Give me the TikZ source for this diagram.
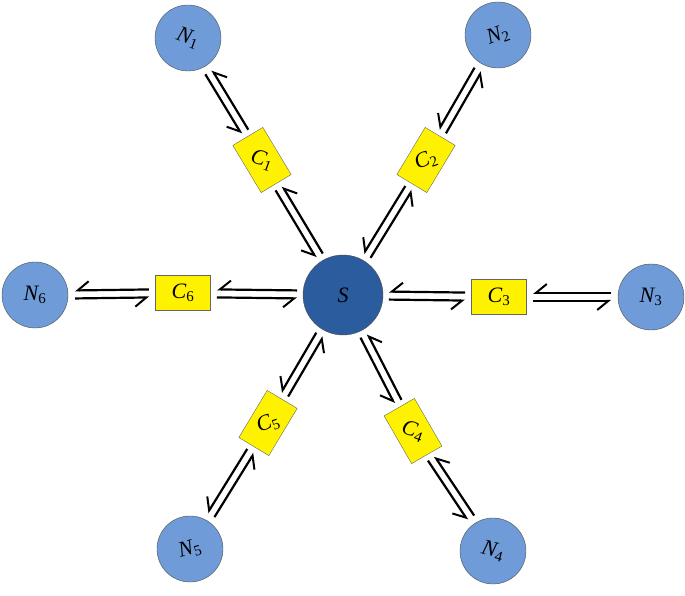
\documentclass[tikz,border=0pt]{standalone}
\usepackage{fontspec}
\setmainfont{Liberation Serif}
\usetikzlibrary{arrows.meta,calc}
\definecolor{nb}{HTML}{6F9BD8}
\definecolor{sb}{HTML}{2B5C9E}
\tikzset{
  nnode/.style={circle,draw=black!70,fill=nb,minimum size=66pt,inner sep=0,font=\fontsize{22}{22}\selectfont\itshape},
  snode/.style={circle,draw=black!70,fill=sb,minimum size=80pt,inner sep=0,font=\fontsize{22}{22}\selectfont\itshape},
  cbox/.style={rectangle,draw=black!60,fill=yellow,minimum width=55pt,minimum height=35pt,inner sep=0,font=\fontsize{22}{22}\selectfont\itshape},
  harp/.style={line width=2.2pt,-{Straight Barb[harpoon,swap,length=11pt,width=18pt,line width=2pt]}}
}
\newcommand\lab[2]{#1\textsubscript{\upshape\fontsize{15}{15}\selectfont #2}}
\newcommand\eqarr[4]{%
  \coordinate (p) at ($(#1)!#3!(#2)$);
  \coordinate (q) at ($(#2)!#4!(#1)$);
  \draw[harp] ($(q)!4pt!-90:(p)$) -- ($(p)!4pt!90:(q)$);
  \draw[harp] ($(p)!4pt!-90:(q)$) -- ($(q)!4pt!90:(p)$);}
\begin{document}
\begin{tikzpicture}[x=1pt,y=1pt]
\useasboundingbox (0,0) rectangle (685,596);
\node[snode] (S) at (343,301) {S};
\node[nnode,rotate=-20] (N1) at (188,558) {\lab{N}{1}};
\node[nnode,rotate=20] (N2) at (498,561) {\lab{N}{2}};
\node[nnode] (N3) at (651,299) {\lab{N}{3}};
\node[nnode,rotate=-15] (N4) at (493,45) {\lab{N}{4}};
\node[nnode,rotate=15] (N5) at (190,47) {\lab{N}{5}};
\node[nnode] (N6) at (35,301) {\lab{N}{6}};
\node[cbox,rotate=-59] (C1) at (262,436) {\rotatebox{39}{\lab{C}{1}}};
\node[cbox,rotate=59] (C2) at (426,436) {\rotatebox{-39}{\lab{C}{2}}};
\node[cbox] (C3) at (499,299) {\lab{C}{3}};
\node[cbox,rotate=-60] (C4) at (413,165) {\rotatebox{40}{\lab{C}{4}}};
\node[cbox,rotate=59] (C5) at (268,173) {\rotatebox{-39}{\lab{C}{5}}};
\node[cbox] (C6) at (183,303) {\lab{C}{6}};
\eqarr{N1}{C1}{40pt}{33pt}
\eqarr{C1}{S}{33pt}{46pt}
\eqarr{S}{C2}{46pt}{33pt}
\eqarr{C2}{N2}{33pt}{40pt}
\eqarr{S}{C3}{46pt}{34pt}
\eqarr{C3}{N3}{34pt}{40pt}
\eqarr{S}{C4}{46pt}{33pt}
\eqarr{C4}{N4}{33pt}{40pt}
\eqarr{N5}{C5}{40pt}{33pt}
\eqarr{C5}{S}{33pt}{46pt}
\eqarr{N6}{C6}{40pt}{34pt}
\eqarr{C6}{S}{34pt}{46pt}
\end{tikzpicture}
\end{document}
